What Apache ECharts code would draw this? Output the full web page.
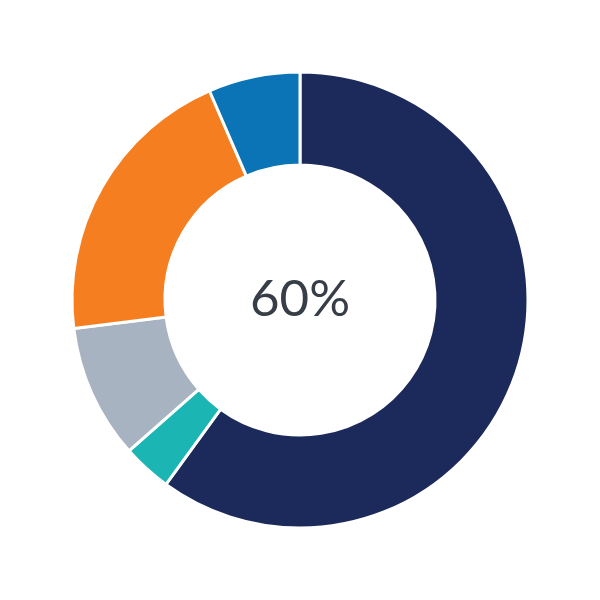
<!DOCTYPE html>
<html>
<head>
<meta charset="utf-8">
<script src="https://cdn.jsdelivr.net/npm/echarts@6/dist/echarts.min.js"></script>
<style>html,body{margin:0;padding:0;background:#fff;}#c{width:600px;height:600px;}</style>
</head>
<body>
<div id="c"></div>
<script>
const categories = ['Navy', 'Teal', 'Gray', 'Orange', 'Blue'];
const values = [60, 3.5, 9.5, 20.5, 6.5];
const colors = ['#1b2a5a', '#1bb5b3', '#a8b3c1', '#f47e20', '#0a74b6'];
const centerLabel = '60%';

const chart = echarts.init(document.getElementById('c'));
chart.setOption({
  animation: false,
  backgroundColor: '#ffffff',
  title: {
    text: centerLabel,
    left: 'center',
    top: 'middle',
    textStyle: { fontFamily: 'Lato', fontWeight: 'normal', fontSize: 51, color: '#383e47' }
  },
  series: [{
    type: 'pie',
    center: [300, 300],
    radius: [135, 228],
    startAngle: 90,
    clockwise: true,
    label: { show: false },
    labelLine: { show: false },
    emphasis: { disabled: true },
    itemStyle: { borderColor: '#ffffff', borderWidth: 3 },
    data: categories.map((n, i) => ({ name: n, value: values[i], itemStyle: { color: colors[i] } }))
  }]
});
</script>
</body>
</html>
